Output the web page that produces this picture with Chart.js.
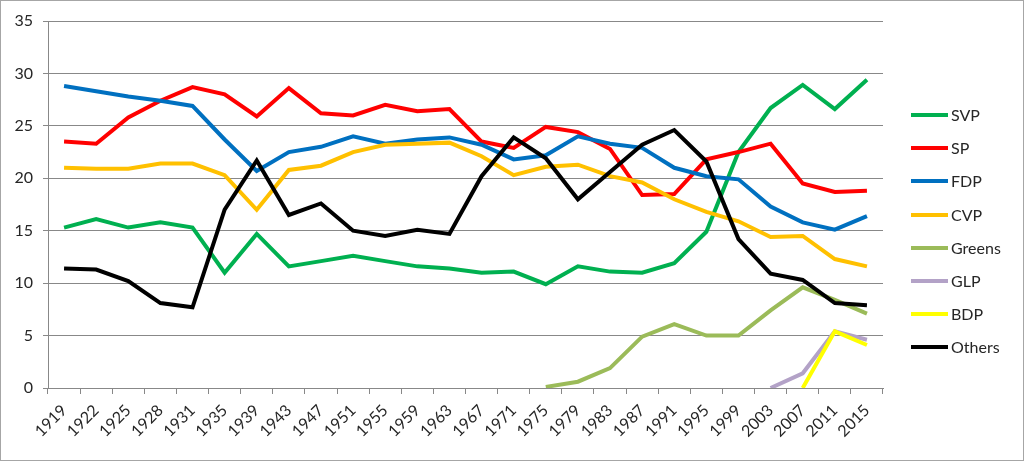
<!DOCTYPE html>
<html>
<head>
<meta charset="utf-8">
<script src="https://cdn.jsdelivr.net/npm/chart.js@4"></script>
<style>
    body { margin: 0; background: #fff; }
    #frame {
        position: relative;
        width: 1024px;
        height: 461px;
        box-sizing: border-box;
        border: 1px solid #a6a6a6;
        font-family: Lato, "Open Sans", sans-serif;
    }
    #legend {
        position: absolute;
        left: 910px;
        top: 104px;
    }
    .item {
        height: 33.2px;
        display: flex;
        align-items: flex-start;
        font-size: 16px;
        color: #262626;
    }
    .swatch {
        width: 37px;
        height: 4px;
        margin-top: 8px;
        margin-right: 3px;
    }
</style>
</head>
<body>
<div id="frame">
    <canvas id="chart" width="1022" height="459"></canvas>
    <div id="legend"></div>
</div>
<script>
const years = ['1919', '1922', '1925', '1928', '1931', '1935', '1939', '1943', '1947', '1951', '1955', '1959', '1963',
    '1967', '1971', '1975', '1979', '1983', '1987', '1991', '1995', '1999', '2003', '2007', '2011', '2015']

const svp = [15.3, 16.1, 15.3, 15.8, 15.3, 11.0, 14.7, 11.6, 12.1, 12.6, 12.1, 11.6, 11.4,
    11.0, 11.1, 9.9, 11.6, 11.1, 11.0, 11.9, 14.9, 22.5, 26.7, 28.9, 26.6, 29.4]
const sp = [23.5, 23.3, 25.8, 27.4, 28.7, 28.0, 25.9, 28.6, 26.2, 26.0, 27.0, 26.4, 26.6,
    23.5, 22.9, 24.9, 24.4, 22.8, 18.4, 18.5, 21.8, 22.5, 23.3, 19.5, 18.7, 18.8]
const fdp = [28.8, 28.3, 27.8, 27.4, 26.9, 23.7, 20.7, 22.5, 23.0, 24.0, 23.3, 23.7, 23.9,
    23.2, 21.8, 22.2, 24.0, 23.3, 22.9, 21.0, 20.2, 19.9, 17.3, 15.8, 15.1, 16.4]
const cvp = [21.0, 20.9, 20.9, 21.4, 21.4, 20.3, 17.0, 20.8, 21.2, 22.5, 23.2, 23.3, 23.4,
    22.1, 20.3, 21.1, 21.3, 20.2, 19.6, 18.0, 16.8, 15.9, 14.4, 14.5, 12.3, 11.6]
const greens = [null, null, null, null, null, null, null, null, null, null, null, null, null,
    null, null, 0.1, 0.6, 1.9, 4.9, 6.1, 5.0, 5.0, 7.4, 9.6, 8.4, 7.1]
const glp = [null, null, null, null, null, null, null, null, null, null, null, null, null,
    null, null, null, null, null, null, null, null, null, 0, 1.4, 5.4, 4.6]
const bdp = [null, null, null, null, null, null, null, null, null, null, null, null, null,
    null, null, null, null, null, null, null, null, null, null, 0, 5.4, 4.1]
const others = [11.4, 11.3, 10.2, 8.1, 7.7, 17.0, 21.7, 16.5, 17.6, 15.0, 14.5, 15.1, 14.7,
    20.2, 23.9, 21.9, 18.0, 20.6, 23.2, 24.6, 21.6, 14.2, 10.9, 10.3, 8.1, 7.9]

const yTicks = [0, 5, 10, 15, 20, 25, 30, 35]

const parties = [
    { name: 'SVP', data: svp, color: '#00B050' },
    { name: 'SP', data: sp, color: '#FF0000' },
    { name: 'FDP', data: fdp, color: '#0070C0' },
    { name: 'CVP', data: cvp, color: '#FFC000' },
    { name: 'Greens', data: greens, color: '#9BBB59' },
    { name: 'GLP', data: glp, color: '#B3A2C7' },
    { name: 'BDP', data: bdp, color: '#FFFF00' },
    { name: 'Others', data: others, color: '#000000' },
]

const gridColor = '#888888'
const font = { family: 'Lato, "Open Sans", sans-serif', size: 16 }

const config = {
    type: 'line',
    data: {
        labels: [...years],
        // later series go on top (Others above everything)
        datasets: parties.map((p, i) => ({
            label: p.name,
            data: [...p.data],
            borderColor: p.color,
            backgroundColor: p.color,
            borderWidth: 4,
            pointRadius: 0,
            tension: 0,
            fill: false,
            order: -i,
        }))
    },
    options: {
        responsive: false,
        animation: false,
        layout: {
            padding: { top: 20, right: 140, bottom: 0, left: 0 }
        },
        plugins: {
            legend: false,
            tooltip: { enabled: false },
        },
        scales: {
            x: {
                offset: true,
                grid: {
                    offset: true,
                    drawOnChartArea: false,
                    drawTicks: true,
                    tickLength: 6,
                    color: gridColor,
                },
                border: { color: gridColor },
                ticks: {
                    autoSkip: false,
                    minRotation: 45,
                    maxRotation: 45,
                    color: '#262626',
                    font: font,
                    padding: 7,
                },
                afterFit: (scale) => { scale.height = 72 },
            },
            y: {
                min: 0,
                max: 35,
                afterBuildTicks: (scale) => { scale.ticks = yTicks.map(v => ({ value: v })) },
                grid: {
                    color: gridColor,
                    tickLength: 5,
                },
                border: { color: gridColor },
                ticks: {
                    color: '#262626',
                    font: font,
                    padding: 10,
                },
                afterFit: (scale) => { scale.width = 47 },
            }
        }
    },
}

new Chart(document.getElementById('chart'), config)

const legend = document.getElementById('legend')
parties.forEach(p => {
    const item = document.createElement('div')
    item.className = 'item'
    const swatch = document.createElement('span')
    swatch.className = 'swatch'
    swatch.style.background = p.color
    const text = document.createElement('span')
    text.textContent = p.name
    item.appendChild(swatch)
    item.appendChild(text)
    legend.appendChild(item)
})
</script>
</body>
</html>
